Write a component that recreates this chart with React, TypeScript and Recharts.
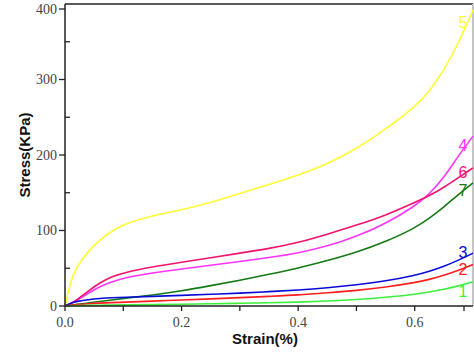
import React from 'react';
import { LineChart, Line, XAxis, YAxis, ReferenceLine } from 'recharts';

// strain (%) sample points shared by every curve
const strain = [0, 0.01, 0.02, 0.04, 0.06, 0.08, 0.1, 0.15, 0.2, 0.25, 0.3, 0.35, 0.4, 0.45, 0.5, 0.55, 0.6, 0.625, 0.65, 0.675, 0.7];

// stress (KPa) per sample
const s1 = [0, 0.3, 0.6, 0.8, 1, 1.2, 1.4, 1.8, 2.4, 3, 3.6, 4.3, 5, 6.5, 8.5, 11.5, 15.5, 18.5, 22, 26.5, 32];
const s2 = [0, 1, 1.8, 3, 3.8, 4.5, 5, 6.5, 8, 9.5, 11, 12.8, 14.5, 17.5, 20.5, 25, 31, 35, 40.5, 47, 55];
const s3 = [0, 4, 6, 8.5, 10, 11, 11.5, 12.8, 14, 15.5, 17, 19, 21, 24, 28, 33, 40.5, 46, 52.5, 60.5, 70];
const s4 = [0, 3, 7, 17, 26, 32, 37, 44, 49, 54, 59, 64, 70, 79, 92, 109, 132, 148, 170, 199, 225];
const s5 = [0, 34, 52, 73, 88, 99, 108, 120, 127, 137, 149, 161, 173, 188, 208, 234, 263, 284, 312, 348, 392];
const s6 = [0, 3, 8, 20, 31, 39, 44, 52, 58, 64, 70, 76, 84, 95, 107, 120, 137, 146, 157, 170, 183];
const s7 = [0, 1, 2, 4, 6, 8, 10, 14.5, 20, 27, 34, 42, 50, 60, 71, 85, 103, 116, 131, 148, 163];

const xTicks = [0, 0.1, 0.2, 0.3, 0.4, 0.5, 0.6, 0.7];
const yTicks = [0, 50, 100, 150, 200, 250, 300, 350, 400];

const data = strain.map((x, i) => ({
  x, s1: s1[i], s2: s2[i], s3: s3[i], s4: s4[i], s5: s5[i], s6: s6[i], s7: s7[i],
}));

const series = [
  { key: 's5', name: '5', color: '#ffff33', dy: 12 },
  { key: 's4', name: '4', color: '#ff33ff', dy: 9 },
  { key: 's6', name: '6', color: '#f0146e', dy: 5 },
  { key: 's7', name: '7', color: '#137a13', dy: 8 },
  { key: 's3', name: '3', color: '#0a0ad8', dy: -1 },
  { key: 's2', name: '2', color: '#ff1e1e', dy: 5 },
  { key: 's1', name: '1', color: '#3cf03c', dy: 10 },
];

const tickFont = { fontFamily: '"Liberation Serif", serif', fontSize: 14, fill: '#444' };

const YTick = (props: any) => {
  const { x, y, payload } = props;
  const major = payload.value % 100 === 0;
  return (
    <g>
      <line x1={major ? x - 6 : x} x2={major ? x : x + 5} y1={y} y2={y} stroke="#222" strokeWidth={1.3} />
      {major && (
        <text x={x - 8} y={y} textAnchor="end" dominantBaseline="central" {...tickFont}>
          {payload.value}
        </text>
      )}
    </g>
  );
};

const XTick = (props: any) => {
  const { x, y, payload } = props;
  const v = Math.round(payload.value * 10);
  const major = v % 2 === 0 && v < 7;
  return (
    <g>
      <line x1={x} x2={x} y1={y} y2={y + 5} stroke="#222" strokeWidth={1.3} />
      {major && (
        <text x={x} y={y + 16} textAnchor="middle" dominantBaseline="central" {...tickFont}>
          {payload.value.toFixed(1)}
        </text>
      )}
    </g>
  );
};

const endLabel = (name: string, color: string, dy: number) => (props: any) => {
  const { x, y, index } = props;
  if (index !== strain.length - 1) return null;
  return (
    <text key={name} x={x - 10} y={y + dy} textAnchor="middle" dominantBaseline="central"
      fontFamily='"Liberation Sans", sans-serif' fontSize={16} fill={color}>
      {name}
    </text>
  );
};

const titleStyle: React.CSSProperties = {
  position: 'absolute',
  fontFamily: '"Liberation Sans", Arial, sans-serif',
  fontWeight: 'bold',
  fontSize: 15,
  color: '#111',
  whiteSpace: 'nowrap',
};

export default function App() {
  return (
    <div style={{ position: 'absolute', left: 0, top: 0, width: 474, height: 364, background: '#fff' }}>
      <LineChart width={474} height={364} data={data} margin={{ top: 4, right: 1, left: 0, bottom: 0 }}>
        <XAxis dataKey="x" type="number" domain={[0, 0.7]} ticks={xTicks} height={58}
          stroke="#222" strokeWidth={1.5} tickLine={false} tickSize={0} tickMargin={0} tick={<XTick />} />
        <YAxis type="number" domain={[0, 400]} ticks={yTicks} width={65}
          stroke="#222" strokeWidth={1.5} tickLine={false} tickSize={0} tickMargin={0} tick={<YTick />} />
        <ReferenceLine y={400} stroke="#222" strokeWidth={1.5} />
        <ReferenceLine x={0.7} stroke="#c4c4c4" strokeWidth={2} />
        {series.map(s => (
          <Line key={s.key} dataKey={s.key} type="basis" stroke={s.color} strokeWidth={1.6}
            dot={false} isAnimationActive={false} label={endLabel(s.name, s.color, s.dy)} />
        ))}
      </LineChart>
      <div style={{ ...titleStyle, left: 24, top: 155, transform: 'translate(-50%, -50%) rotate(-90deg)' }}>
        Stress(KPa)
      </div>
      <div style={{ ...titleStyle, left: 265, top: 338, transform: 'translate(-50%, -50%)' }}>
        Strain(%)
      </div>
    </div>
  );
}
